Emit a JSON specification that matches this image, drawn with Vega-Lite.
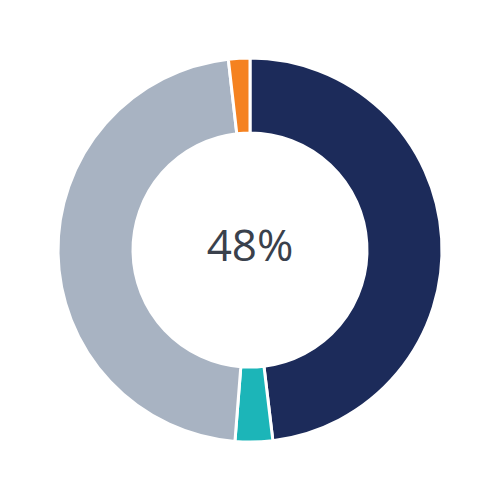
{
  "$schema": "https://vega.github.io/schema/vega-lite/v6.json",
  "width": 500,
  "height": 500,
  "autosize": {"type": "fit", "contains": "padding"},
  "padding": 0,
  "background": "white",
  "view": {"stroke": null},
  "layer": [
    {
      "data": {"values": [
        {"cat": "A", "order": 1, "value": 48.1},
        {"cat": "B", "order": 2, "value": 3.15},
        {"cat": "C", "order": 3, "value": 46.95},
        {"cat": "D", "order": 4, "value": 1.8}
      ]},
      "mark": {"type": "arc", "outerRadius": 192, "innerRadius": 117, "stroke": "white", "strokeWidth": 3},
      "encoding": {
        "theta": {"field": "value", "type": "quantitative", "stack": true},
        "order": {"field": "order", "type": "quantitative"},
        "color": {"field": "cat", "type": "nominal", "legend": null,
          "scale": {"domain": ["A", "B", "C", "D"], "range": ["#1c2b5a", "#1cb5b8", "#a8b3c2", "#f58220"]}}
      }
    },
    {
      "data": {"values": [{"label": "48%"}]},
      "mark": {"type": "text", "fontSize": 44, "font": "Open Sans", "fontWeight": 400, "color": "#3a414c", "baseline": "middle", "align": "center", "dy": -2},
      "encoding": {"text": {"field": "label", "type": "nominal"}}
    }
  ]
}
